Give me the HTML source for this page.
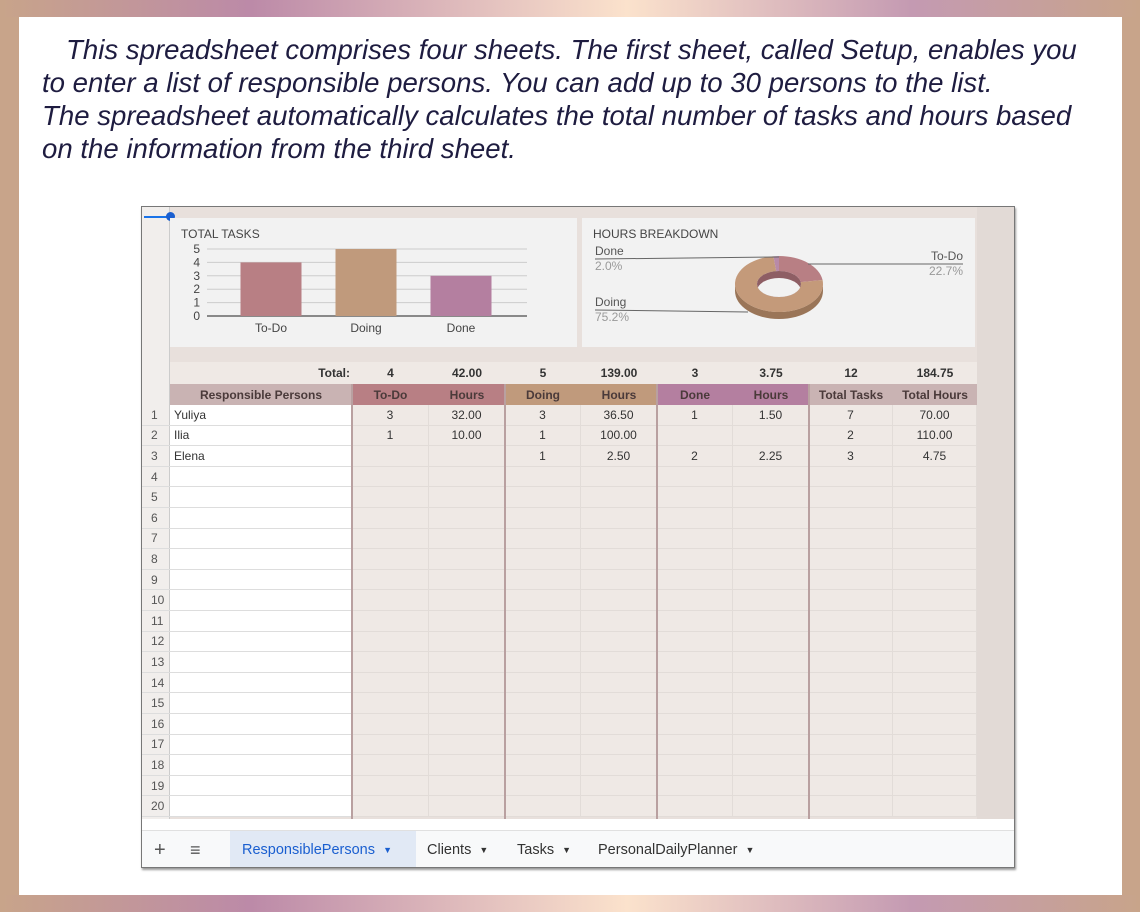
<!DOCTYPE html>
<html><head><meta charset="utf-8">
<style>
*{margin:0;padding:0;box-sizing:border-box}
body{width:1140px;height:912px;position:relative;overflow:hidden;font-family:"Liberation Sans",sans-serif;background:#c8a48a}
#topbar,#botbar{position:absolute;left:0;width:1140px;background:linear-gradient(90deg,#c8a48a 0%,#bc8aa8 22%,#fbe2cc 55%,#c49ab2 80%,#c8a48a 100%)}
#topbar{top:0;height:17px}
#botbar{top:895px;height:17px}
#panel{position:absolute;left:19px;top:17px;width:1103px;height:878px;background:#fff}
.para{position:absolute;left:42px;font-style:italic;font-size:27.6px;color:#1e1c40;white-space:nowrap}
#sheet{position:absolute;left:141px;top:206px;width:874px;height:662px;background:#e8e0dc;border:1px solid #777;box-shadow:1px 2px 2px #999;overflow:hidden}
.cell{position:absolute;font-family:"Liberation Sans",sans-serif;font-size:12px;color:#333;display:flex;align-items:center;justify-content:center;white-space:nowrap}
.tabs{position:absolute;left:0;top:623px;width:874px;height:39px;background:#f8f9fa;border-top:1px solid #e0e0e0}
.tab{position:absolute;top:0;height:38px;display:flex;align-items:center;font-size:14.5px;color:#333}
</style></head><body>
<div id="topbar"></div>
<div id="botbar"></div>
<div id="panel"></div>
<div class="para" style="top:34px;left:66px">This spreadsheet comprises four sheets. The first sheet, called Setup, enables you</div>
<div class="para" style="top:67px">to enter a list of responsible persons. You can add up to 30 persons to the list.</div>
<div class="para" style="top:100px">The spreadsheet automatically calculates the total number of tasks and hours based</div>
<div class="para" style="top:133px">on the information from the third sheet.</div>

<div id="sheet">
  <div style="position:absolute;left:0;top:0;width:28px;height:612px;background:#f1eeec;border-right:1px solid #ccc"></div>
  <div style="position:absolute;left:835px;top:0;width:38px;height:612px;background:#e2dad6"></div>
  <div style="position:absolute;left:2px;top:9px;width:26px;height:2px;background:#1a73e8"></div>
  <div style="position:absolute;left:24px;top:5px;width:9px;height:9px;border-radius:50%;background:#1a5fd0"></div>
  <div style="position:absolute;left:28px;top:11px;width:407px;height:129px;background:#f2f2f2">
    <svg id="bar" width="407" height="129"></svg>
  </div>
  <div style="position:absolute;left:440px;top:11px;width:393px;height:129px;background:#f2f2f2">
    <svg id="pie" width="393" height="129"></svg>
  </div>
  <div id="grid"></div>
  <div style="position:absolute;left:0;top:612px;width:874px;height:11px;background:#fff"></div>
  <div class="tabs">
    <div class="tab" style="left:12px;font-size:20px;color:#555">+</div>
    <div class="tab" style="left:48px;font-size:18px;color:#555">≡</div>
    <div class="tab" style="left:88px;width:186px;background:#e1e9f5;color:#1a5fd0;padding-left:12px">ResponsiblePersons&nbsp;&nbsp;<span style="font-size:9px">▼</span></div>
    <div class="tab" style="left:285px">Clients&nbsp;&nbsp;<span style="font-size:9px">▼</span></div>
    <div class="tab" style="left:375px">Tasks&nbsp;&nbsp;<span style="font-size:9px">▼</span></div>
    <div class="tab" style="left:456px">PersonalDailyPlanner&nbsp;&nbsp;<span style="font-size:9px">▼</span></div>
  </div>
</div>

<script>
// ---- bar chart data ----
const barCats=["To-Do","Doing","Done"];
const barVals=[4,5,3];
const barTicks=[0,1,2,3,4,5];
const barColors=["#b87f84","#c09a7c","#b47fa0"];
// ---- pie chart data ----
const pieCats=["To-Do","Doing","Done"];
const pieVals=[42,139,3.75];
const pieLabels=["22.7%","75.2%","2.0%"];
const pieColors=["#b87f84","#c49a7a","#b88aa8"];
// ---- table data ----
const persons=["Yuliya","Ilia","Elena"];
const todoN=["3","1",""], todoH=["32.00","10.00",""];
const doingN=["3","1","1"], doingH=["36.50","100.00","2.50"];
const doneN=["1","","2"], doneH=["1.50","","2.25"];
const totN=["7","2","3"], totH=["70.00","110.00","4.75"];
const totalsRow=["4","42.00","5","139.00","3","3.75","12","184.75"];
const headers=["Responsible Persons","To-Do","Hours","Doing","Hours","Done","Hours","Total Tasks","Total Hours"];

const NS="http://www.w3.org/2000/svg";
function mk(p,t,a){const e=document.createElementNS(NS,t);for(const k in a)e.setAttribute(k,a[k]);p.appendChild(e);return e;}

// bar chart
const bs=document.getElementById('bar');
const x0=37,x1=357,yB=98,yT=31,vmax=5;
const ys=v=>yB-(v/vmax)*(yB-yT);
const band=95, firstC=x0+64;
const xc=i=>firstC+i*band;
let t=mk(bs,'text',{x:11,y:20,'font-size':12,fill:'#444'});t.textContent="TOTAL TASKS";


barTicks.forEach(v=>{
  const l=mk(bs,'line',{x1:x0,x2:x1,y1:ys(v),y2:ys(v),stroke:v==0?'#666':'#ccc','stroke-width':v==0?1.5:1});
  
  
  const tx=mk(bs,'text',{x:30,y:ys(v)+4,'font-size':12,fill:'#444','text-anchor':'end'});tx.textContent=v;
  
  
});
barCats.forEach((c,i)=>{
  const cx=xc(i);
  const r=mk(bs,'rect',{x:cx-30.5,y:ys(barVals[i]),width:61,height:yB-ys(barVals[i]),fill:barColors[i]});
  
  
  const tx=mk(bs,'text',{x:cx,y:114,'font-size':12,fill:'#444','text-anchor':'middle'});tx.textContent=c;
  
  
});

// donut
const ps=document.getElementById('pie');
t=mk(ps,'text',{x:11,y:20,'font-size':12,fill:'#444'});t.textContent="HOURS BREAKDOWN";


const cx=197,cy=66,rx=44,ry=28,hx=22,hy=13,dep=7;
const tot=pieVals.reduce((a,b)=>a+b,0);
function pt(a,X,Y,dy){return [cx+X*Math.sin(a),cy-Y*Math.cos(a)+(dy||0)];}
mk(ps,'path',{d:`M${cx-rx},${cy} A${rx},${ry} 0 0 0 ${cx+rx},${cy} L${cx+rx},${cy+dep} A${rx},${ry} 0 0 1 ${cx-rx},${cy+dep} Z`,fill:'#9a7558'});
let a=0;
pieVals.forEach((v,i)=>{
  const b=a+v/tot*2*Math.PI, lg=(b-a)>Math.PI?1:0;
  const p1=pt(a,rx,ry),p2=pt(b,rx,ry),q2=pt(b,hx,hy),q1=pt(a,hx,hy);
  const s=mk(ps,'path',{d:`M${p1} A${rx},${ry} 0 ${lg} 1 ${p2} L${q2} A${hx},${hy} 0 ${lg} 0 ${q1} Z`,fill:pieColors[i]});
  
  
  a=b;
});
mk(ps,'ellipse',{cx:cx,cy:cy,rx:hx,ry:hy,fill:'#8e5e64'});
mk(ps,'clipPath',{id:'hc'}).appendChild(document.createElementNS(NS,'ellipse'));
const ce=document.querySelector('#hc ellipse');ce.setAttribute('cx',cx);ce.setAttribute('cy',cy);ce.setAttribute('rx',hx);ce.setAttribute('ry',hy);
mk(ps,'ellipse',{cx:cx,cy:cy+dep,rx:hx,ry:hy,fill:'#f2f2f2','clip-path':'url(#hc)'});
// labels
const lab=[{i:2,x:13,y:37,anchor:'start',lx:197,ly:39},{i:1,x:13,y:88,anchor:'start',lx:166,ly:94},{i:0,x:381,y:42,anchor:'end',lx:226,ly:46}];
lab.forEach(o=>{
  mk(ps,'line',{x1:o.anchor=='end'?381:13,y1:o.y+4,x2:o.lx,y2:o.ly,stroke:'#666','stroke-width':1});
  let n=mk(ps,'text',{x:o.x,y:o.y,'font-size':12,fill:'#555','text-anchor':o.anchor});n.textContent=pieCats[o.i];
  
  
  let p=mk(ps,'text',{x:o.x,y:o.y+15,'font-size':12,fill:'#999','text-anchor':o.anchor});p.textContent=pieLabels[o.i];
  
  
});

// grid
const g=document.getElementById('grid');
const cols=[28,210,287,363,439,515,591,667,751,835];
const hdrBg=["#c9b3b3","#b87f84","#b87f84","#c09a7c","#c09a7c","#b47fa0","#b47fa0","#c9b3b3","#c9b3b3"];
function cell(x,y,w,h,txt,st,name){
  const d=document.createElement('div');d.className='cell';
  d.style.cssText=`left:${x}px;top:${y}px;width:${w}px;height:${h}px;`+(st||'');
  d.textContent=txt;
  
  
  g.appendChild(d);return d;
}
const rowTop=198,rh=20.6;
cell(28,155,182,22,'','background:#efe9e5','totals-bg');
cell(28,155,180,22,'Total:','justify-content:flex-end;font-weight:bold;background:#efe9e5','totals-label');
totalsRow.forEach((v,i)=>cell(cols[i+1],155,cols[i+2]-cols[i+1],22,v,'font-weight:bold;background:#efe9e5','total-'+i));
headers.forEach((h,i)=>cell(cols[i],177,cols[i+1]-cols[i],21,h,`font-weight:bold;background:${hdrBg[i]};color:#4a3a3a`,'header-'+i));
for(let r=0;r<20;r++){
  const y=rowTop+r*rh;
  cell(0,y,28,rh,String(r+1),'color:#555;justify-content:flex-start;padding-left:9px;border-bottom:1px solid #ddd','row-number');
  cell(28,y,cols[1]-28,rh,r<persons.length?persons[r]:'','justify-content:flex-start;padding-left:4px;background:#fff;border-bottom:1px solid #ddd','person-name');
  const vals=[todoN,todoH,doingN,doingH,doneN,doneH,totN,totH];
  vals.forEach((arr,i)=>cell(cols[i+1],y,cols[i+2]-cols[i+1],rh,r<arr.length?arr[r]:'','background:#efe9e5;border-bottom:1px solid #e2dcd8;border-right:1px solid #e2dcd8','data-cell'));
}
[1,3,5,7].forEach(ci=>{
  const d=document.createElement('div');
  d.style.cssText=`position:absolute;left:${cols[ci]-1}px;top:177px;width:2px;height:435px;background:#b9a0a0`;
  
  
  g.appendChild(d);
});
</script>
</body></html>
